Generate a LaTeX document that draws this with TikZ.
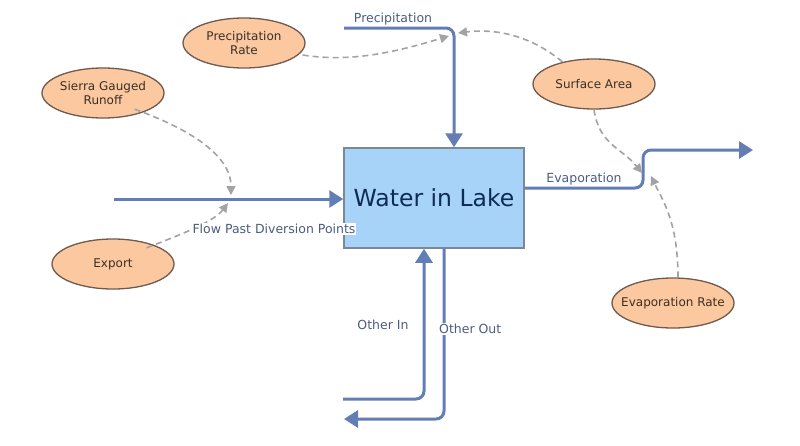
\documentclass[tikz,border=0pt]{standalone}
\usepackage{fontspec}
\setmainfont{DejaVu Sans}
\usetikzlibrary{arrows.meta,shapes.geometric}
\definecolor{flowc}{HTML}{637DB5}
\definecolor{boxfill}{HTML}{A6D3F7}
\definecolor{boxline}{HTML}{7A8899}
\definecolor{ellfill}{HTML}{FBC8A0}
\definecolor{ellline}{HTML}{6E5A4E}
\definecolor{linkc}{HTML}{A3A3A3}
\definecolor{flowtext}{HTML}{4D5C80}
\definecolor{elltext}{HTML}{3B2F25}
\definecolor{laketext}{HTML}{0D2B55}
\begin{document}
\begin{tikzpicture}[x=1pt,y=-1pt,
  flow/.style={draw=flowc, line width=3pt, rounded corners=8pt, -{Triangle[length=14pt,width=17pt]}},
  flowlabel/.style={font=\fontsize{12.5}{14}\selectfont, text=flowtext, inner sep=1pt},
  aux/.style={ellipse, draw=ellline, line width=1.3pt, fill=ellfill, minimum width=122pt, minimum height=50pt, inner xsep=-14pt, inner ysep=0pt, align=center, text=elltext, font=\fontsize{12}{14.5}\selectfont},
  stock/.style={draw=boxline, line width=1.5pt, fill=boxfill, minimum width=180pt, minimum height=100pt, text=laketext, font=\fontsize{23.5}{27}\selectfont},
  link/.style={draw=linkc, line width=1.6pt, dash pattern=on 6pt off 4pt, -{Triangle[length=9pt,width=9pt]}}
]
\useasboundingbox (0,0) rectangle (800,445);
\fill[white] (0,0) rectangle (800,445);

% stock
\node[stock] (lake) at (434,198) {Water in Lake};

% auxiliaries
\node[aux] (pr) at (244,43) {Precipitation\\Rate};
\node[aux] (sg) at (103,93) {Sierra Gauged\\Runoff};
\node[aux] (ex) at (113,264) {Export};
\node[aux] (sa) at (594,84) {Surface Area};
\node[aux] (er) at (673,303) {Evaporation Rate};

% flow coordinates
\coordinate (p0) at (344,28);
\coordinate (pc) at (454,28);
\coordinate (f0) at (114,199);
\coordinate (e1) at (643,188);
\coordinate (e2) at (753,150);
\coordinate (oi0) at (343,399);
\coordinate (oi1) at (424,399);
\coordinate (oo1) at (444,419);
\coordinate (oo2) at (344,419);

% valve targets for links
\coordinate (pva) at (449,36);
\coordinate (pvb) at (458,33);
\coordinate (fva) at (231,195);
\coordinate (fvb) at (228,203);
\coordinate (eva) at (642,173);
\coordinate (evb) at (651,176);

% flows
\draw[flow] (p0) -- (pc) -- (pc |- lake.north);
\draw[flow] (f0) -- (f0 -| lake.west);
\draw[flow] (lake.east |- e1) -- (e1) -- (e1 |- e2) -- (e2);
\draw[flow] (oi0) -- (oi1) -- (oi1 |- lake.south);
\draw[flow] (oo1 |- lake.south) -- (oo1) -- (oo2);

% links
\draw[link] (pr.east) ++(-3,12) .. controls +(50,8) and +(-50,15) .. (pva);
\draw[link] (sa.north west) ++(12,-4) .. controls +(-30,-25) and +(40,-5) .. (pvb);
\draw[link] (sg.south east) ++(-12,-2) .. controls +(55,20) and +(0,-40) .. (fva);
\draw[link] (ex.north east) ++(-10,2) .. controls +(25,-10) and +(-15,20) .. (fvb);
\draw[link] (sa.south) .. controls +(5,35) and +(-20,-25) .. (eva);
\draw[link] (er.north) ++(5,0) .. controls +(0,-55) and +(12,25) .. (evb);

% flow labels
\node[flowlabel] (lp) at (393,19) {Precipitation};
\node[flowlabel, fill=white] (lf) at (274,229) {Flow Past Diversion Points};
\node[flowlabel] (le) at (584,179) {Evaporation};
\node[flowlabel] (li) at (383,325) {Other In};
\node[flowlabel, fill=white, anchor=west] (lo) at (438,329) {Other Out};
\end{tikzpicture}
\end{document}
